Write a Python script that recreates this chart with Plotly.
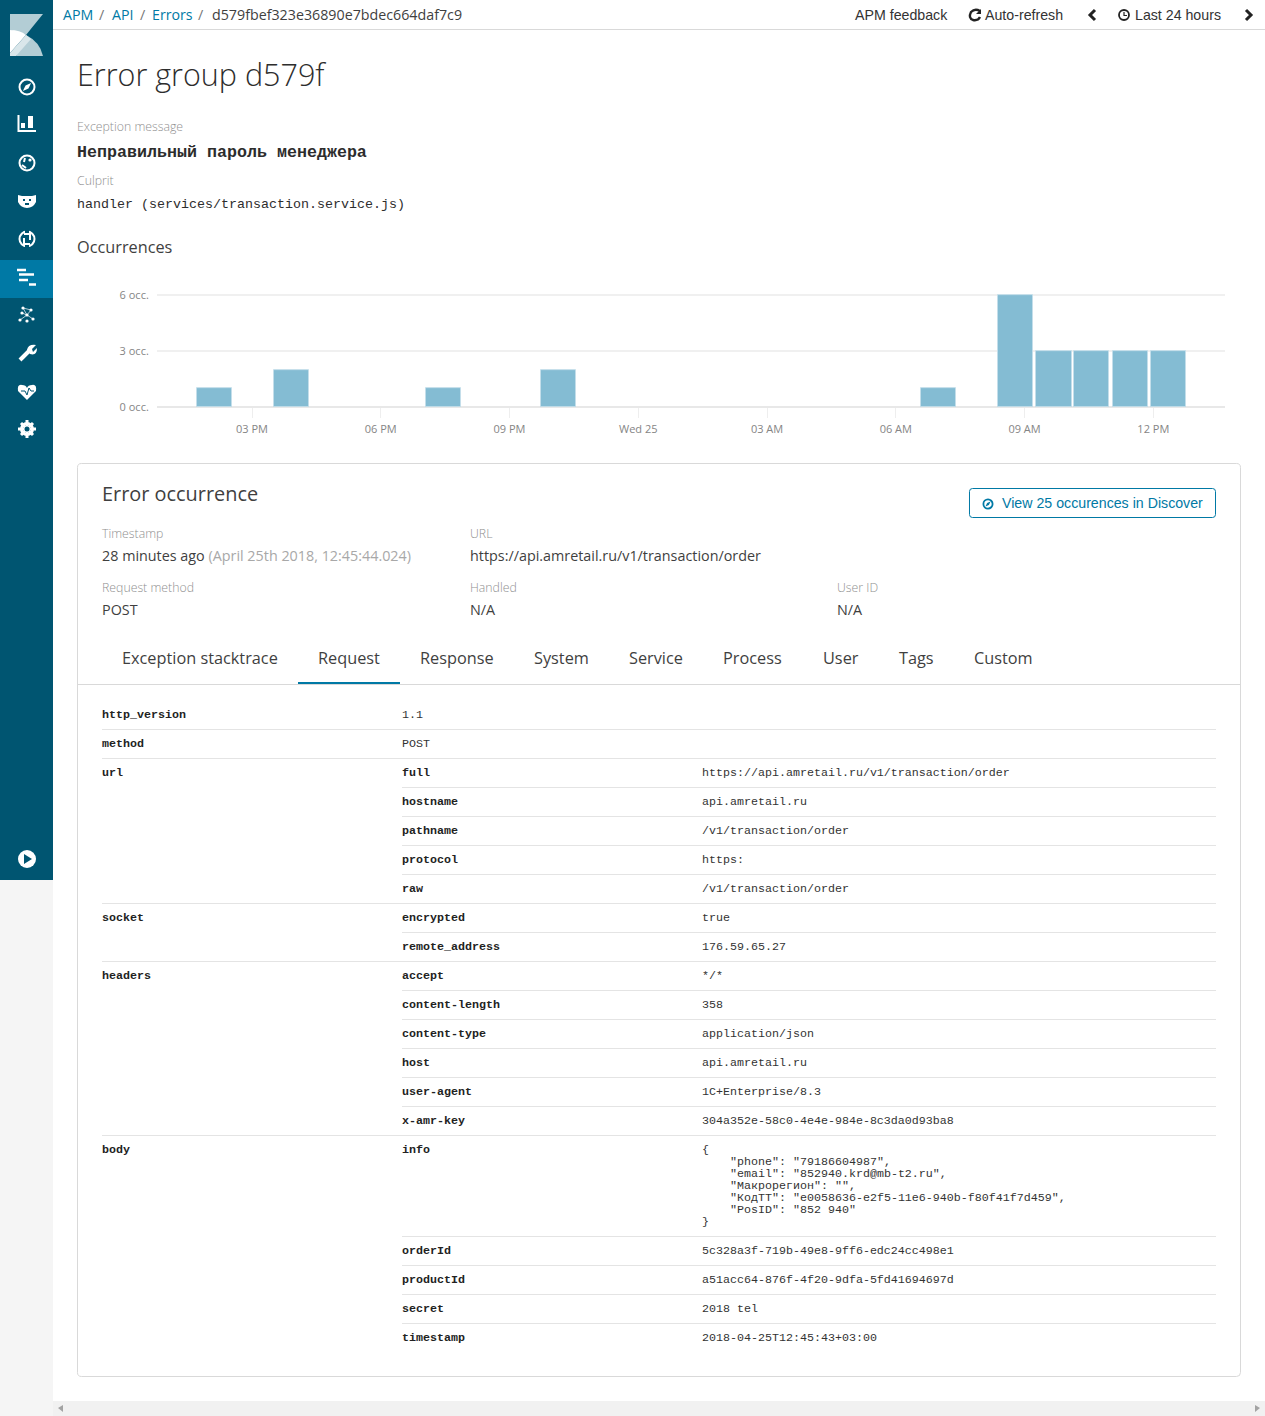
#!/usr/bin/env python3
# -*- coding:utf-8 -*-

import plotly.graph_objects as go

W = 1265
H = 1416

# histogram of the error group
barTimes = ["2018-04-24 14:08", "2018-04-24 15:55", "2018-04-24 19:28", "2018-04-24 22:08",
            "2018-04-25 07:00", "2018-04-25 08:47", "2018-04-25 09:41", "2018-04-25 10:34",
            "2018-04-25 11:28", "2018-04-25 12:21"]
barCounts = [1, 2, 1, 2, 1, 6, 3, 3, 3, 3]
xTickVals = ["2018-04-24 15:00", "2018-04-24 18:00", "2018-04-24 21:00", "2018-04-25 00:00",
             "2018-04-25 03:00", "2018-04-25 06:00", "2018-04-25 09:00", "2018-04-25 12:00"]
xTickText = ["03 PM", "06 PM", "09 PM", "Wed 25", "03 AM", "06 AM", "09 AM", "12 PM"]
yTickVals = [0, 3, 6]
yTickText = ["0 occ.", "3 occ.", "6 occ."]
xRange = ["2018-04-24 12:47:12", "2018-04-25 13:40:12"]

crumbs = ["APM", "API", "Errors"]
tabs = ["Exception stacktrace", "Request", "Response", "System", "Service", "Process", "User", "Tags", "Custom"]

# request table: section, key, value
tableRows = [
    ("http_version", "1.1", ""),
    ("method", "POST", ""),
    ("url", "full", "https://api.amretail.ru/v1/transaction/order"),
    ("", "hostname", "api.amretail.ru"),
    ("", "pathname", "/v1/transaction/order"),
    ("", "protocol", "https:"),
    ("", "raw", "/v1/transaction/order"),
    ("socket", "encrypted", "true"),
    ("", "remote_address", "176.59.65.27"),
    ("headers", "accept", "*/*"),
    ("", "content-length", "358"),
    ("", "content-type", "application/json"),
    ("", "host", "api.amretail.ru"),
    ("", "user-agent", "1C+Enterprise/8.3"),
    ("", "x-amr-key", "304a352e-58c0-4e4e-984e-8c3da0d93ba8"),
    ("body", "info", "{"),
    ("", "orderId", "5c328a3f-719b-49e8-9ff6-edc24cc498e1"),
    ("", "productId", "a51acc64-876f-4f20-9dfa-5fd41694697d"),
    ("", "secret", "2018 tel"),
    ("", "timestamp", "2018-04-25T12:45:43+03:00"),
]
infoLines = ['"phone": "79186604987",', '"email": "852940.krd@mb-t2.ru",', '"Макрорегион": "",',
             '"КодТТ": "e0058636-e2f5-11e6-940b-f80f41f7d459",', '"PosID": "852 940"']

SANS = "Open Sans"
MONO = "Liberation Mono"
ARIAL = "Liberation Sans"
DARK = "#3f3f3f"
GREY = "#909090"
BLUE = "#0079a5"
NAV = "#005571"
LINE = "#d9d9d9"

shapes = []
notes = []


def px(x):
    return x / W


def py(y):
    return 1 - y / H


def txt(x, y, s, size=14.35, color=DARK, family=SANS, anchor="left", weight=None):
    font = dict(size=size, color=color, family=family)
    if weight:
        font["weight"] = weight
    notes.append(dict(x=px(x), y=py(y), xref="paper", yref="paper", text=s, showarrow=False,
                      xanchor=anchor, yanchor="middle", align="left", font=font,
                      borderpad=0, borderwidth=0))


def label(x, y, s):
    txt(x, y, s, size=12.3, color=GREY, weight=300)


def rect(x0, y0, x1, y1, fill, line=None, lw=1):
    shapes.append(dict(type="rect", xref="paper", yref="paper", x0=px(x0), x1=px(x1), y0=py(y0), y1=py(y1),
                       fillcolor=fill, line=dict(color=line or fill, width=lw if line else 0), layer="below"))


def hline(x0, x1, y, color=LINE, lw=1):
    shapes.append(dict(type="line", xref="paper", yref="paper", x0=px(x0), x1=px(x1), y0=py(y), y1=py(y),
                       line=dict(color=color, width=lw), layer="below"))


def circle(cx, cy, r, fill="rgba(0,0,0,0)", line="white", lw=2):
    shapes.append(dict(type="circle", xref="paper", yref="paper", x0=px(cx - r), x1=px(cx + r),
                       y0=py(cy - r), y1=py(cy + r), fillcolor=fill,
                       line=dict(color=line, width=lw), layer="below"))


def path(cmds, fill="white", line=None, lw=0):
    # cmds are like [("M", x, y), ("L", x, y), ("Q", cx, cy, x, y), ("Z",)] in window pixels
    parts = []
    for c in cmds:
        nums = []
        for i, v in enumerate(c[1:]):
            nums.append(str(round(px(v) if i % 2 == 0 else py(v), 5)))
        parts.append(c[0] + " " + " ".join(nums))
    shapes.append(dict(type="path", xref="paper", yref="paper", path=" ".join(parts),
                       fillcolor=fill, line=dict(color=line or fill, width=lw), layer="below"))


def poly(pts, fill="white"):
    path([("M",) + pts[0]] + [("L",) + p for p in pts[1:]] + [("Z",)], fill=fill)


def stroke(pts, color="white", lw=2):
    path([("M",) + pts[0]] + [("L",) + p for p in pts[1:]], fill="rgba(0,0,0,0)", line=color, lw=lw)


def roundBox(x0, y0, x1, y1, r, line, fill="white"):
    path([("M", x0 + r, y0), ("L", x1 - r, y0), ("Q", x1, y0, x1, y0 + r), ("L", x1, y1 - r),
          ("Q", x1, y1, x1 - r, y1), ("L", x0 + r, y1), ("Q", x0, y1, x0, y1 - r), ("L", x0, y0 + r),
          ("Q", x0, y0, x0 + r, y0), ("Z",)], fill=fill, line=line, lw=1)


def compass(cx, cy, color="white", r=7.5, lw=2):
    circle(cx, cy, r, line=color, lw=lw)
    s = r * 0.55
    poly([(cx + s, cy - s), (cx + s * 0.35, cy + s * 0.35), (cx - s, cy + s), (cx - s * 0.35, cy - s * 0.35)], fill=color)


# page chrome
rect(0, 0, 53, 880, NAV)
rect(0, 880, 53, H, "#f5f5f5")
rect(0, 260, 53, 298, BLUE)
rect(53, 1401, W, H, "#f1f1f1")
poly([(58, 1408), (63, 1405), (63, 1412)], fill="#a3a3a3")
poly([(1260, 1408), (1255, 1405), (1255, 1412)], fill="#a3a3a3")
hline(53, W, 29.5, color="#d9d9d9")

# logo
poly([(10, 14), (43, 14), (26, 35), (10, 30)], fill="#b3cdd5")
path([("M", 26, 35), ("Q", 40, 42, 43, 56), ("L", 16, 56), ("Z",)], fill="#b3cdd5")
path([("M", 10, 30), ("Q", 20, 30, 26, 35), ("L", 10, 53), ("Z",)], fill="white")
poly([(26, 35), (10, 53), (10, 56), (16, 56), (31, 39)], fill="#d9e6ea")

# sidebar icons
compass(27, 87)
stroke([(18.5, 115), (18.5, 131), (36, 131)])
rect(21, 123, 25, 128, "white")
rect(28, 116, 33, 128, "white")
circle(27, 163, 7.5)
circle(30, 160, 1.6, fill="white", lw=0)
stroke([(22, 165), (26, 168)], lw=2)
stroke([(25, 158), (24, 162)], lw=2)
path([("M", 18, 195), ("L", 22, 196), ("L", 32, 196), ("L", 36, 195), ("L", 36, 202), ("Q", 33, 208, 27, 208),
      ("Q", 21, 208, 18, 202), ("Z",)])
rect(23, 199, 25, 201, NAV)
rect(29, 199, 31, 201, NAV)
rect(25, 203, 29, 205, NAV)
circle(27, 239, 7.5)
rect(25, 229, 29, 235, NAV)
rect(25, 243, 29, 249, NAV)
stroke([(24, 234), (30, 234), (30, 240)], lw=2)
stroke([(30, 244), (24, 244), (24, 238)], lw=2)
for x0, x1, y in [(17, 26, 270), (19, 34, 274.5), (19, 28, 280), (29, 36, 284.5)]:
    hline(x0, x1, y, color="white", lw=2.5)
for a, b in [((23, 308), (31, 310)), ((23, 308), (27, 315)), ((31, 310), (27, 315)), ((27, 315), (20, 320)),
             ((27, 315), (33, 319)), ((27, 315), (22, 313))]:
    stroke([a, b], lw=0.7)
for cx, cy in [(23, 308), (31, 310), (27, 315), (20, 320), (33, 319), (22, 313), (27, 321)]:
    circle(cx, cy, 1.6, fill="white", lw=0)
stroke([(20, 360), (30, 350)], lw=4)
path([("M", 27, 350), ("Q", 28, 344, 36, 345), ("L", 32, 349), ("L", 33, 352), ("L", 37, 348),
      ("Q", 37, 356, 30, 354), ("Z",)])
path([("M", 27, 400), ("L", 18, 391), ("Q", 17, 384, 22, 385), ("Q", 26, 385, 27, 388),
      ("Q", 28, 385, 32, 385), ("Q", 37, 384, 36, 391), ("Z",)])
stroke([(21, 391), (25, 391), (27, 395), (29, 388), (31, 391), (34, 391)], color=NAV, lw=1)
circle(27, 429, 5.5, line="white", lw=3)
for a, b in [((27, 420), (27, 438)), ((18, 429), (36, 429)), ((21, 423), (33, 435)), ((33, 423), (21, 435))]:
    stroke([a, b], lw=3)
circle(27, 429, 2.5, fill=NAV, line=NAV, lw=0)
circle(27, 859, 9, fill="white", lw=0)
poly([(24, 854), (32, 859), (24, 864)], fill=NAV)

# top bar
crumbX = [63, 112, 152]
for x, c in zip(crumbX, crumbs):
    txt(x, 15, c, color=BLUE, size=14.2)
for x in [102, 143, 201]:
    txt(x, 15, "/", color="#777777", anchor="center")
txt(212, 15, "d579fbef323e36890e7bdec664daf7c9", size=14.25)
txt(855, 15, "APM feedback", size=14.2, color="#333333", family=ARIAL)
txt(985, 15, "Auto-refresh", size=14.2, color="#333333", family=ARIAL)
txt(1135, 15, "Last 24 hours", size=14.2, color="#333333", family=ARIAL)
path([("M", 980, 11), ("Q", 975, 8, 971, 12), ("Q", 968, 18, 973, 20), ("Q", 978, 21, 980, 17)],
     fill="rgba(0,0,0,0)", line="#222222", lw=2.4)
poly([(981, 9), (981, 14), (976, 14)], fill="#222222")
stroke([(1095, 10), (1090, 15), (1095, 20)], color="#222222", lw=3)
stroke([(1246, 10), (1251, 15), (1246, 20)], color="#222222", lw=3)
circle(1124, 15, 5, line="#222222", lw=1.8)
stroke([(1124, 12), (1124, 15.5), (1127, 15.5)], color="#222222", lw=1.2)

# heading block
txt(77, 73.5, "Error group d579f", size=30.5, color="#2d2d2d", weight=300)
label(77, 126.5, "Exception message")
txt(77, 152, "Неправильный пароль менеджера", size=16.67, color="#2d2d2d", family=MONO, weight=700)
label(77, 180.5, "Culprit")
txt(77, 204, "handler (services/transaction.service.js)", size=13.33, color="#2d2d2d", family=MONO)
txt(77, 247, "Occurrences", size=16.3, color=DARK)

# occurrence panel
roundBox(77.5, 463.5, 1240.5, 1376.5, 4, LINE)
txt(102, 493, "Error occurrence", size=19.9, color=DARK)
roundBox(969.5, 488.5, 1215.5, 517.5, 3, BLUE)
compass(988, 504, color=BLUE, r=4.6, lw=1.8)
txt(1002, 503, "View 25 occurences in Discover", size=14.2, color=BLUE, family=ARIAL)
label(102, 533, "Timestamp")
txt(102, 555.6, '28 minutes ago <span style="color:#a8a8a8">(April 25th 2018, 12:45:44.024)</span>')
label(470, 533, "URL")
txt(470, 555.6, "https://api.amretail.ru/v1/transaction/order")
label(102, 587, "Request method")
txt(102, 609, "POST")
label(470, 587, "Handled")
txt(470, 609, "N/A")
label(837, 587, "User ID")
txt(837, 609, "N/A")

# tabs
tabX = [122, 318, 420, 534, 629, 723, 823, 899, 974]
for x, t in zip(tabX, tabs):
    txt(x, 658, t, size=16.3, color=DARK)
hline(78, 1240, 684.5)
hline(298, 400, 683, color=BLUE, lw=2)

# request table
y = 715
rowEdge = 700.5
for i, (section, key, value) in enumerate(tableRows):
    if section:
        txt(102, y, section, size=11.67, color="#222222", family=MONO, weight=700)
    if value:
        txt(402, y, key, size=11.67, color="#222222", family=MONO, weight=700)
        txt(702, y, value, size=11.67, color="#333333", family=MONO)
    else:
        txt(402, y, key, size=11.67, color="#333333", family=MONO)
    rowH = 29
    if value == "{":
        for j, line in enumerate(infoLines):
            txt(730, y + 12 * (j + 1), line, size=11.67, color="#333333", family=MONO)
        txt(702, y + 72, "}", size=11.67, color="#333333", family=MONO)
        rowH = 101
    y += rowH
    rowEdge += rowH
    if i + 1 < len(tableRows):
        hline(102 if tableRows[i + 1][0] else 402, 1216, rowEdge, color="#e4e4e4")

fig = go.Figure(go.Bar(x=barTimes, y=barCounts, width=2960000, marker_color="#84bcd3",
                       marker_line=dict(color="#c4deea", width=1)))
fig.update_xaxes(domain=[px(157), px(1225)], range=xRange, type="date", tickmode="array",
                 tickvals=xTickVals, ticktext=xTickText, ticks="outside", ticklen=10, tickwidth=1,
                 tickcolor="#eeeeee", showgrid=False, zeroline=False, showline=False, automargin=False,
                 ticklabelstandoff=2, tickfont=dict(family=SANS, size=11, color="#858585"))
# a little headroom above 6 so the top grid line is not dropped at the axis end
fig.update_yaxes(domain=[py(407), py(293.13)], range=[0, 6.1], tickmode="array", tickvals=yTickVals,
                 ticktext=yTickText, showgrid=True, gridcolor="#f0f0f0", gridwidth=2, automargin=False,
                 zeroline=True, zerolinecolor="#e8e8e8", zerolinewidth=2, ticks="outside", ticklen=5,
                 tickcolor="rgba(0,0,0,0)", tickfont=dict(family=SANS, size=11, color="#858585"))
fig.update_layout(width=W, height=H, margin=dict(l=0, r=0, t=0, b=0, pad=0), paper_bgcolor="white",
                  plot_bgcolor="rgba(0,0,0,0)", showlegend=False, shapes=shapes, annotations=notes,
                  bargap=0)

fig.write_html("out.html", config=dict(displayModeBar=False),
               post_script="document.body.style.margin='0';")
